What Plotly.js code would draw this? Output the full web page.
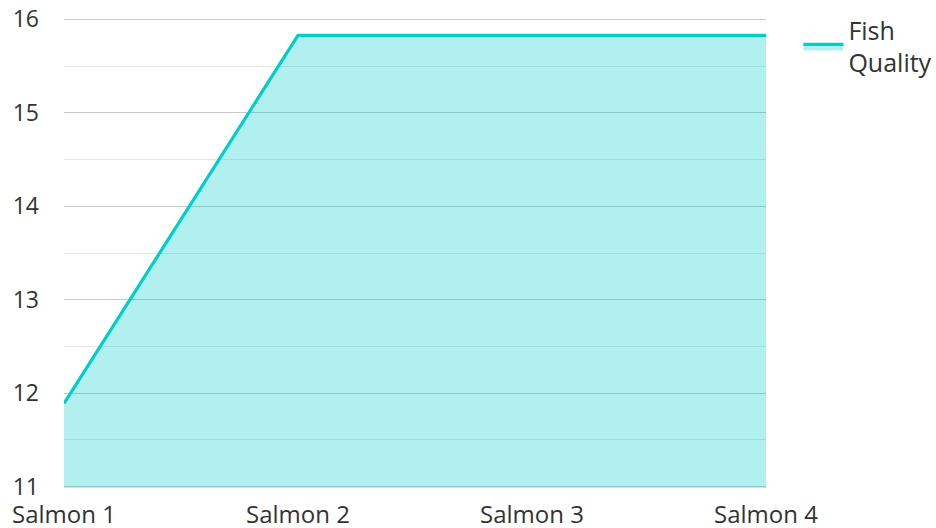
<!DOCTYPE html>
<html>
<head>
<meta charset="utf-8">
<script src="https://cdn.plot.ly/plotly-3.0.1.min.js"></script>
<style>html,body{margin:0;padding:0;background:#fff;}#chart{width:936px;height:528px;}</style>
</head>
<body>
<div id="chart"></div>
<script>
const categories = ["Salmon 1", "Salmon 2", "Salmon 3", "Salmon 4"];
const quality = [11.89, 15.83, 15.83, 15.83];
const seriesName = "Fish<br>Quality";

const trace = {
  x: categories,
  y: quality,
  type: "scatter",
  mode: "lines",
  name: seriesName,
  fill: "tozeroy",
  fillcolor: "rgba(0,206,201,0.3)",
  line: {color: "#00cec9", width: 3.2}
};

const layout = {
  width: 936, height: 528,
  margin: {l: 64, r: 170, t: 18, b: 40, autoexpand: false},
  paper_bgcolor: "#fff", plot_bgcolor: "#fff",
  font: {family: "Open Sans", size: 24, color: "#333"},
  showlegend: true,
  legend: {xref: "container", yref: "container", x: 0.853, y: 0.986, xanchor: "left", yanchor: "top", itemwidth: 40,
           font: {size: 25, color: "#333"}, bgcolor: "rgba(0,0,0,0)"},
  xaxis: {
    type: "category", range: [0, 3], showgrid: false, zeroline: false, showline: false,
    ticks: "", automargin: false, ticklabelstandoff: 10, tickfont: {size: 24, color: "#333"}
  },
  yaxis: {
    range: [10.985, 16.015], tickvals: [11, 12, 13, 14, 15, 16], showgrid: true, gridcolor: "#c8c8c8", gridwidth: 1,
    zeroline: false, showline: false, ticks: "", automargin: false, ticklabelstandoff: 24,
    tickfont: {size: 23, color: "#333"},
    minor: {dtick: 0.5, showgrid: true, gridcolor: "#e6e6e6", gridwidth: 1}
  }
};

Plotly.newPlot("chart", [trace], layout, {displayModeBar: false});
</script>
</body>
</html>
